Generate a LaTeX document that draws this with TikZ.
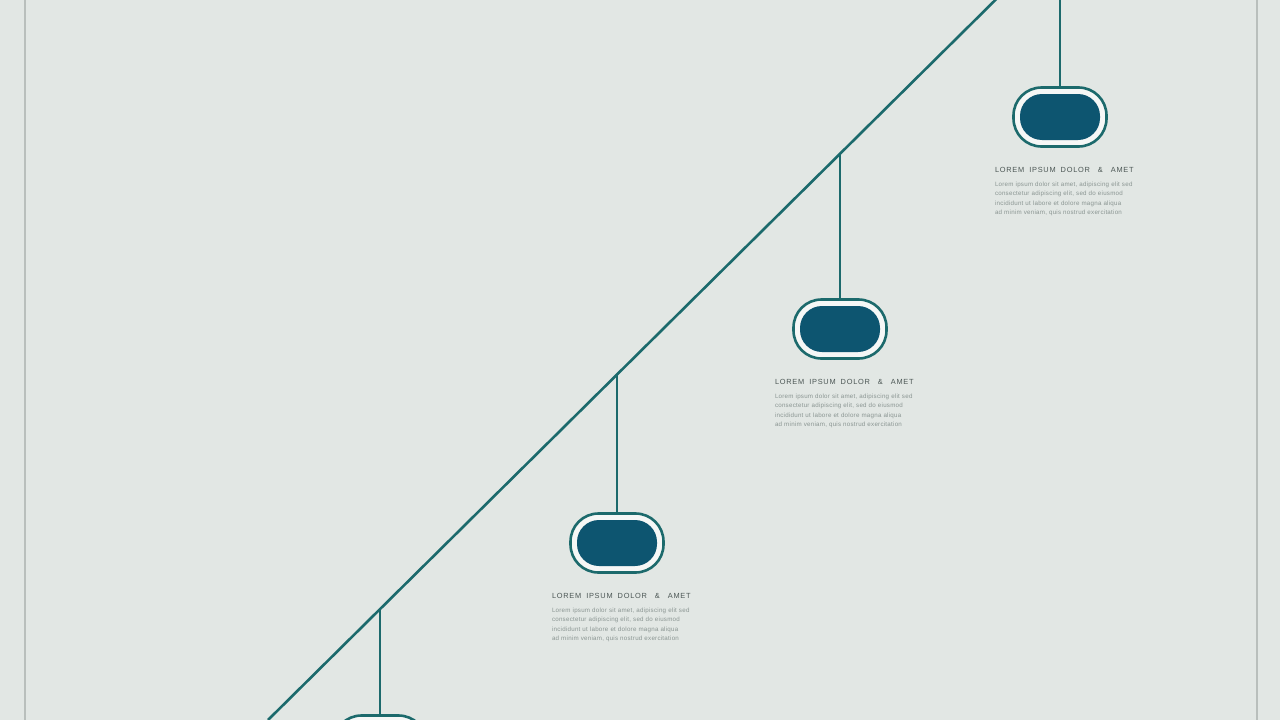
\documentclass[tikz,border=0pt]{standalone}
\usepackage{fontspec}
\setmainfont{Liberation Sans}
\usetikzlibrary{positioning}
\definecolor{bg}{HTML}{E2E7E4}
\definecolor{rail}{HTML}{1C6A6C}
\definecolor{podfill}{HTML}{0D5570}
\definecolor{frame}{HTML}{B9BFBC}
\definecolor{ink}{HTML}{4C5755}
\definecolor{faint}{HTML}{8A9592}
\newcommand{\podhead}[1]{{\fontsize{7.4}{9}\selectfont\addfontfeature{LetterSpace=10}\textcolor{ink}{#1}}}

\tikzset{
pod/.style={draw=rail, line width=2.6pt, fill=bg!35!white, rounded corners=28pt,
  minimum width=93pt, minimum height=59pt, inner sep=0pt},
core/.style={fill=podfill, rounded corners=22pt, minimum width=80pt,
  minimum height=46pt, inner sep=0pt},
note/.style={align=left, text width=142pt, inner sep=0pt, xshift=6pt,
  font=\fontsize{6.2}{9.4}\selectfont\addfontfeature{LetterSpace=4}, text=faint}
}

\begin{document}
\begin{tikzpicture}[x=1pt,y=-1pt]
\useasboundingbox (0,0) rectangle (1280,720);
\fill[bg] (0,0) rectangle (1280,720);
\draw[frame, line width=1.4pt] (25,0) -- (25,720)
(1257,0) -- (1257,720);
\begin{scope}
\clip (0,0) rectangle (1280,720);
\coordinate (s) at (268,720);
\coordinate (b1) at (380,609);
\coordinate (b2) at (617,374);
\coordinate (b3) at (840,153);
\coordinate (b4) at (1060,-64);
\draw[rail, line width=2.6pt] (s) -- (b4);
\node[pod] (o1) at (380,745) {};
\node[pod] (o2) at (617,543) {};
\node[pod] (o3) at (840,329) {};
\node[pod] (o4) at (1060,117) {};
\foreach \i in {1,...,4}{
\node[core] (c\i) at (o\i) {};
\draw[rail, line width=2.4pt] (b\i) -- (o\i.north);
}
\end{scope}
% captions under the pods
\node[note, below=19pt of o2] (t2) {\podhead{LOREM\hspace{5pt}IPSUM\hspace{5pt}DOLOR\hspace{8pt}\&\hspace{8pt}AMET}\\[5pt]
Lorem ipsum dolor sit amet, adipiscing elit sed\\
consectetur adipiscing elit, sed do eiusmod\\
incididunt ut labore et dolore magna aliqua\\
ad minim veniam, quis nostrud exercitation};
\node[note, below=19pt of o3] (t3) {\podhead{LOREM\hspace{5pt}IPSUM\hspace{5pt}DOLOR\hspace{8pt}\&\hspace{8pt}AMET}\\[5pt]
Lorem ipsum dolor sit amet, adipiscing elit sed\\
consectetur adipiscing elit, sed do eiusmod\\
incididunt ut labore et dolore magna aliqua\\
ad minim veniam, quis nostrud exercitation};
\node[note, below=19pt of o4] (t4) {\podhead{LOREM\hspace{5pt}IPSUM\hspace{5pt}DOLOR\hspace{8pt}\&\hspace{8pt}AMET}\\[5pt]
Lorem ipsum dolor sit amet, adipiscing elit sed\\
consectetur adipiscing elit, sed do eiusmod\\
incididunt ut labore et dolore magna aliqua\\
ad minim veniam, quis nostrud exercitation};
\end{tikzpicture}
\end{document}
